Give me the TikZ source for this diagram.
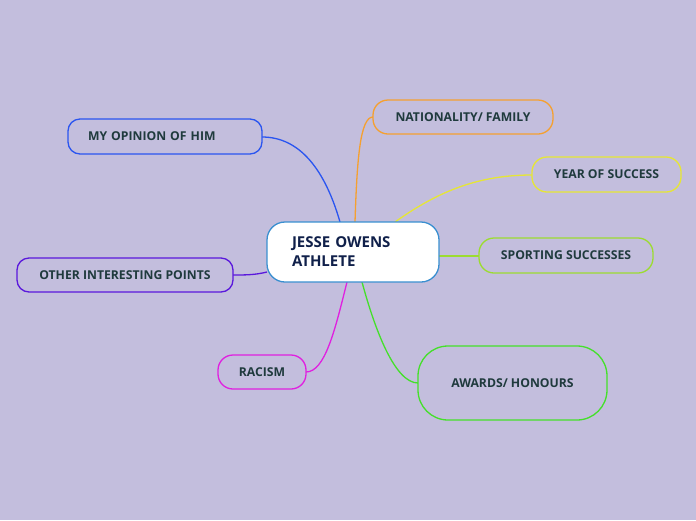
\documentclass[tikz,border=0pt]{standalone}
\usepackage{fontspec}
\setmainfont{Open Sans}
\begin{document}
\begin{tikzpicture}[x=1pt,y=-1pt,
  leaf/.style={draw,line width=1.3pt,rounded corners=15pt,fill=bg,text=txt,font=\bfseries\fontsize{12.2}{14}\selectfont,inner sep=0pt},
  link/.style={line width=1.3pt}]
\definecolor{bg}{HTML}{C3BEDD}
\definecolor{txt}{HTML}{1F3A3D}
\definecolor{cblue}{HTML}{2A55F0}
\definecolor{corange}{HTML}{F5A030}
\definecolor{cyellow}{HTML}{E6E635}
\definecolor{clime}{HTML}{9CDC30}
\definecolor{cpurple}{HTML}{5A18DC}
\definecolor{cmag}{HTML}{E020E0}
\definecolor{cgreen}{HTML}{44E02A}
\definecolor{ccenter}{HTML}{3A8FD0}
\definecolor{ctext}{HTML}{10204A}
\fill[bg] (0,0) rectangle (696,520);
\useasboundingbox (0,0) rectangle (696,520);
% connectors
\draw[link,cblue] (340,222) .. controls (325,170) and (300,137) .. (262,137);
\draw[link,corange] (355,222) .. controls (357,160) and (360,117) .. (373,117);
\draw[link,cyellow] (395,222) .. controls (440,190) and (480,175) .. (532,175);
\draw[link,clime] (439,256) -- (479,256);
\draw[link,cpurple] (267,272) .. controls (255,275) and (245,275) .. (233,275);
\draw[link,cmag] (347,282) .. controls (335,330) and (325,372) .. (306,372);
\draw[link,cgreen] (362,282) .. controls (375,330) and (395,383) .. (418,383);
% nodes
\node[draw=cblue,leaf,minimum width=194pt,minimum height=35pt,rounded corners=12pt,text width=154pt,align=left] (op) at (165,136.5) {MY OPINION OF HIM};
\node[draw=corange,leaf,minimum width=180pt,minimum height=34pt] (nat) at (463,117) {NATIONALITY/ FAMILY};
\node[draw=cyellow,leaf,minimum width=149pt,minimum height=35pt] (yr) at (606.5,174.5) {YEAR OF SUCCESS};
\node[draw=clime,leaf,minimum width=174pt,minimum height=35pt] (sp) at (566,255.5) {SPORTING SUCCESSES};
\node[draw=cpurple,leaf,minimum width=216pt,minimum height=34pt,rounded corners=12pt] (oth) at (125,275) {OTHER INTERESTING POINTS};
\node[draw=cmag,leaf,minimum width=88pt,minimum height=34pt] (rac) at (262,372) {RACISM};
\node[draw=cgreen,leaf,minimum width=189pt,minimum height=74pt,rounded corners=30pt] (aw) at (512.5,383) {AWARDS/ HONOURS};
\node[draw=ccenter,fill=white,line width=1.3pt,rounded corners=18pt,minimum width=172pt,minimum height=60pt,text=ctext,font=\bfseries\fontsize{15}{19}\selectfont,align=left,text width=122pt,inner sep=0pt] (c) at (353,252) {JESSE OWENS\\ATHLETE};
\end{tikzpicture}
\end{document}
